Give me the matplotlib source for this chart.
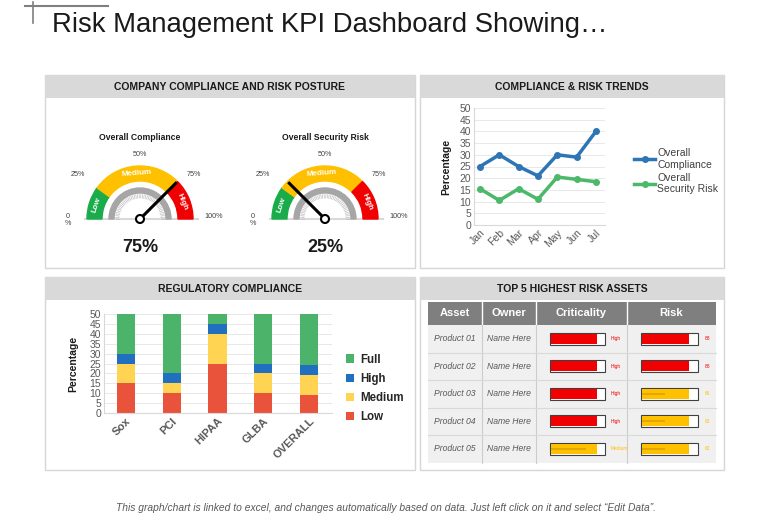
import numpy as np
import matplotlib
matplotlib.use("Agg")
import matplotlib.pyplot as plt
from matplotlib.patches import Rectangle, Wedge, Circle

plt.rcParams['font.family'] = ['Liberation Sans', 'DejaVu Sans']

W, H = 768, 532

# --- data ---
gauge_titles = ['Overall Compliance', 'Overall Security Risk']
gauge_values = [75, 25]

months = ['Jan', 'Feb', 'Mar', 'Apr', 'May', 'Jun', 'Jul']
compliance = [25, 30, 25, 21, 30, 29, 40]
security_risk = [15.5, 10.5, 15.5, 11, 20.5, 19.5, 18.5]

regulations = ['Sox', 'PCI', 'HIPAA', 'GLBA', 'OVERALL']
low = [15, 10, 25, 10, 9]
medium = [10, 5, 15, 10, 10]
high = [5, 5, 5, 5, 5]
full = [20, 30, 5, 25, 26]

assets = ['Product 01', 'Product 02', 'Product 03', 'Product 04', 'Product 05']
owners = ['Name Here'] * 5
criticality = ['High', 'High', 'High', 'High', 'Medium']
criticality_pct = [85, 85, 85, 85, 85]
risk_scores = [88, 88, 66, 62, 62]
risk_pct = [83, 83, 83, 83, 83]

RED = '#f00000'
YEL = '#ffc000'
GREY_TXT = '#595959'


def Y(y):
    # pixel row (from top) -> bg axes y
    return H - y


fig = plt.figure(figsize=(W / 100, H / 100), dpi=100)
bg = fig.add_axes([0, 0, 1, 1])
bg.set_xlim(0, W)
bg.set_ylim(0, H)
bg.axis('off')

# title + corner mark
bg.plot([25, 108], [Y(6), Y(6)], color='#7f7f7f', lw=1.5)
bg.plot([33, 33], [Y(2), Y(23)], color='#7f7f7f', lw=1.2)
bg.text(52, Y(25), 'Risk Management KPI Dashboard Showing\u2026', fontsize=19.8,
        color='#1a1a1a', va='center', ha='left')
bg.text(386, Y(508), 'This graph/chart is linked to excel, and changes automatically based on data. '
        'Just left click on it and select \u201cEdit Data\u201d.', fontsize=7.4, style='italic',
        color=GREY_TXT, ha='center', va='center')


def panel(x0, y0, x1, y1, title):
    bg.add_patch(Rectangle((x0, Y(y1)), x1 - x0, y1 - y0, facecolor='white',
                           edgecolor='#d6d6d6', lw=1))
    bg.add_patch(Rectangle((x0, Y(y0 + 23)), x1 - x0, 23, facecolor='#d9d9d9',
                           edgecolor='none'))
    bg.text((x0 + x1) / 2, Y(y0 + 11.5), title, fontsize=7.5, fontweight='bold',
            color='#1a1a1a', ha='center', va='center')


panel(45, 75, 415, 268, 'COMPANY COMPLIANCE AND RISK POSTURE')
panel(420, 75, 724, 268, 'COMPLIANCE & RISK TRENDS')
panel(45, 277, 415, 470, 'REGULATORY COMPLIANCE')
panel(420, 277, 724, 470, 'TOP 5 HIGHEST RISK ASSETS')


# --- gauges ---
def gauge(cx, cy, value, title):
    c = (cx, Y(cy))
    r_out, band = 53, 15
    bg.plot([cx - 55, cx + 58], [Y(cy), Y(cy)], color='#d9d9d9', lw=1.5, zorder=1)
    bg.add_patch(Wedge(c, r_out, 144, 180, width=band, color='#1aab4b', zorder=2))
    bg.add_patch(Wedge(c, r_out, 45, 144, width=band, color=YEL, zorder=2))
    bg.add_patch(Wedge(c, r_out, 0, 45, width=band, color=RED, zorder=2))
    rm = r_out - band / 2
    for lab, a in [('Low', 162), ('Medium', 94.5), ('High', 22.5)]:
        t = np.radians(a)
        bg.text(cx + rm * np.cos(t), Y(cy) + rm * np.sin(t), lab, rotation=a - 90,
                fontsize=5.8, fontweight='bold', color='white', ha='center',
                va='center', rotation_mode='anchor', zorder=3)
    bg.add_patch(Wedge(c, 31, 0, 180, width=5, color='#a6a6a6', zorder=2))
    for a in np.linspace(0, 180, 46):
        t = np.radians(a)
        bg.plot([cx + 21 * np.cos(t), cx + 24.5 * np.cos(t)],
                [Y(cy) + 21 * np.sin(t), Y(cy) + 24.5 * np.sin(t)],
                color='#bfbfbf', lw=0.5, zorder=2)
    t = np.radians(180 - 1.8 * value)
    bg.plot([cx, cx + 52 * np.cos(t)], [Y(cy), Y(cy) + 52 * np.sin(t)],
            color='black', lw=2.2, solid_capstyle='butt', zorder=4)
    bg.add_patch(Circle(c, 4, facecolor='white', edgecolor='black', lw=1.5, zorder=5))
    bg.text(cx, Y(137), title, fontsize=6.2, fontweight='bold', color='#1a1a1a',
            ha='center', va='center')
    kw = dict(fontsize=5.2, color='#404040', ha='center', va='center')
    bg.text(cx, Y(155), '50%', **kw)
    bg.text(cx - 62, Y(174), '25%', **kw)
    bg.text(cx + 54, Y(174), '75%', **kw)
    bg.text(cx - 72, Y(220), '0\n%', linespacing=1.0, **kw)
    bg.text(cx + 74, Y(216), '100%', **kw)
    bg.text(cx, Y(248), f'{value}%', fontsize=13, fontweight='bold', color='#1a1a1a',
            ha='center', va='center')


gauge(140, 219, gauge_values[0], gauge_titles[0])
gauge(325, 219, gauge_values[1], gauge_titles[1])


def style_axes(ax):
    ax.set_facecolor('none')
    for s in ['top', 'right']:
        ax.spines[s].set_visible(False)
    for s in ['left', 'bottom']:
        ax.spines[s].set_color('#d9d9d9')
        ax.spines[s].set_linewidth(0.8)
    ax.set_ylim(0, 50)
    ax.set_yticks(np.arange(0, 51, 5))
    ax.grid(axis='y', color='#e8e8e8', lw=0.7)
    ax.set_axisbelow(True)
    ax.tick_params(length=0, labelsize=7.5, labelcolor=GREY_TXT, pad=2)
    ax.set_ylabel('Percentage', fontsize=7.5, fontweight='bold', color='#1a1a1a', labelpad=6)


# --- line chart ---
ax1 = fig.add_axes([474 / W, Y(225) / H, 131 / W, 117 / H])
style_axes(ax1)
x = np.arange(len(months))
ax1.plot(x, compliance, color='#2e75b6', lw=2.5, marker='o', ms=4, label='Overall\nCompliance')
ax1.plot(x, security_risk, color='#4cb86a', lw=2.5, marker='o', ms=4, label='Overall\nSecurity Risk')
ax1.set_xlim(-0.31, 6.47)
ax1.set_xticks(x)
ax1.set_xticklabels(months, rotation=45, ha='right', rotation_mode='anchor')
ax1.legend(loc='upper left', bbox_to_anchor=(630 / W, Y(144) / H), bbox_transform=fig.transFigure,
           frameon=False, fontsize=7.5, handlelength=2.0, labelspacing=0.3,
           handletextpad=0.2, borderaxespad=0, labelcolor='#404040')

# --- stacked bar chart ---
ax2 = fig.add_axes([104 / W, Y(413) / H, 228 / W, 99 / H])
style_axes(ax2)
ax2.set_ylabel('Percentage', fontsize=7.5, fontweight='bold', color='#1a1a1a', labelpad=8)
xb = np.arange(len(regulations))
bw = 0.4
b0 = np.zeros(len(regulations))
series = [('Low', low, '#e9533b'), ('Medium', medium, '#fed452'),
          ('High', high, '#2170c0'), ('Full', full, '#4cb46a')]
handles = []
for name, vals, col in series:
    h = ax2.bar(xb, vals, bw, bottom=b0, color=col, label=name)
    handles.append(h)
    b0 = b0 + np.array(vals)
ax2.set_xlim(-0.48, 4.5)
ax2.set_xticks(xb)
ax2.set_xticklabels(regulations, rotation=45, ha='right', rotation_mode='anchor',
                    fontweight='bold', fontsize=8)
ax2.legend(handles[::-1], [s[0] for s in series][::-1], loc='upper left',
           bbox_to_anchor=(341 / W, Y(349) / H), bbox_transform=fig.transFigure,
           frameon=False, handlelength=0.75, handleheight=0.75,
           labelspacing=0.62, handletextpad=0.5, borderaxespad=0,
           prop={'weight': 'bold', 'size': 8.3}, labelcolor='#262626')

# --- table ---
cols = [428, 482, 536, 627, 716]
heads = ['Asset', 'Owner', 'Criticality', 'Risk']
bg.add_patch(Rectangle((cols[0], Y(325)), cols[-1] - cols[0], 23, facecolor='#7f7f7f', edgecolor='none'))
for i, hd in enumerate(heads):
    bg.text((cols[i] + cols[i + 1]) / 2, Y(313.5), hd, fontsize=8, fontweight='bold',
            color='white', ha='center', va='center')
    if i > 0:
        bg.plot([cols[i], cols[i]], [Y(302), Y(325)], color='white', lw=1)
row_h = 27.5
top = 325
bg.add_patch(Rectangle((cols[0], Y(top + row_h * 5)), cols[-1] - cols[0], row_h * 5,
                       facecolor='#f0f0f0', edgecolor='none'))
for i in range(1, 4):
    bg.plot([cols[i], cols[i]], [Y(top), Y(top + row_h * 5)], color='#cccccc', lw=0.8)
for r in range(5):
    yc = top + row_h * (r + 0.5)
    if r > 0:
        bg.plot([cols[0], cols[-1]], [Y(top + row_h * r)] * 2, color='#d9d9d9', lw=0.8)
    bg.text((cols[0] + cols[1]) / 2, Y(yc), assets[r], fontsize=6.2, style='italic',
            color=GREY_TXT, ha='center', va='center')
    bg.text((cols[1] + cols[2]) / 2, Y(yc), owners[r], fontsize=6.2, style='italic',
            color=GREY_TXT, ha='center', va='center')
    # criticality bar
    ccol = RED if criticality[r] == 'High' else YEL
    bx, bwid = 550, 55
    bg.add_patch(Rectangle((bx, Y(yc + 6)), bwid, 12, facecolor='white', edgecolor='#404040', lw=0.8))
    bg.add_patch(Rectangle((bx + 0.5, Y(yc + 5)), bwid * criticality_pct[r] / 100, 10,
                           facecolor=ccol, edgecolor='none'))
    if ccol == YEL:
        bg.add_patch(Rectangle((bx + 0.5, Y(yc + 1)), bwid * criticality_pct[r] / 100 * 0.75, 2,
                               facecolor='#e0a800', edgecolor='none'))
    bg.text(611, Y(yc), criticality[r], fontsize=3.5, color=ccol, ha='left', va='center')
    # risk bar
    rcol = RED if risk_scores[r] >= 80 else YEL
    rx, rwid = 641, 57
    bg.add_patch(Rectangle((rx, Y(yc + 6)), rwid, 12, facecolor='white', edgecolor='#404040', lw=0.8))
    bg.add_patch(Rectangle((rx + 0.5, Y(yc + 5)), rwid * risk_pct[r] / 100, 10,
                           facecolor=rcol, edgecolor='none'))
    if rcol == YEL:
        bg.add_patch(Rectangle((rx + 0.5, Y(yc + 1)), rwid * risk_pct[r] / 100 * 0.5, 2,
                               facecolor='#e0a800', edgecolor='none'))
    bg.text(705, Y(yc), str(risk_scores[r]), fontsize=3.5, color=rcol, ha='left', va='center')

fig.savefig('out.png', dpi=100)
